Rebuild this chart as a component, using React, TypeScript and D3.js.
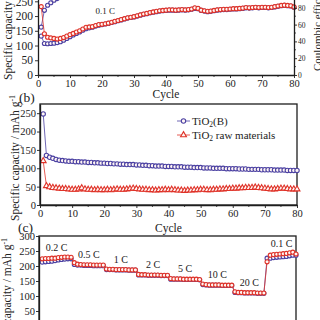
import React, { useEffect, useRef } from "react";
import * as d3 from "d3";

const W = 320;
const H = 320;
const FONT = "'Liberation Serif', 'Times New Roman', serif";
const RED = "#df3329";
const BLUE = "#4b41a2";

// shared cycle axis
const cycleTicks = [0, 10, 20, 30, 40, 50, 60, 70, 80];
const cycleMinor = [5, 15, 25, 35, 45, 55, 65, 75];
const capacityTicks = [0, 50, 100, 150, 200, 250];
const rateCapTicks = [0, 50, 100, 150, 200, 250, 300];
const efficiencyTicks = [0, 20, 40, 60, 80, 100];
const efficiencyMinor = [10, 30, 50, 70, 90];

// (a) long cycling at 0.1 C, mAh/g and %
const dischargeA = [
  232, 140, 128, 126, 124, 122, 124, 127, 132, 137,
  141, 146, 150, 156, 162, 163, 164, 168, 171, 172,
  174, 176, 179, 182, 185, 188, 191, 194, 196, 198,
  201, 204, 207, 209, 212, 214, 216, 218, 219, 220,
  221, 221, 220, 221, 222, 221, 222, 224, 228, 226,
  220, 218, 216, 217, 219, 221, 222, 223, 223, 224,
  225, 225, 226, 227, 229, 228, 229, 230, 229, 230,
  230, 229, 230, 232, 234, 236, 237, 236, 235, 231,
];
const chargeA = [
  132, 107, 106, 107, 108, 110, 113, 118, 124, 130,
  136, 141, 146, 152, 157, 160, 162, 166, 169, 171,
  173, 175, 178, 181, 184, 187, 190, 193, 195, 197,
  200, 203, 206, 208, 211, 213, 215, 217, 218, 219,
  220, 220, 219, 220, 221, 220, 221, 223, 226, 225,
  219, 217, 215, 216, 218, 220, 221, 222, 222, 223,
  224, 224, 225, 226, 228, 227, 228, 229, 228, 229,
  229, 228, 229, 231, 233, 235, 236, 235, 234, 230,
];
const efficiencyA = [
  57, 77, 83, 86, 89, 91, 93, 94, 95, 96,
  97, 97, 97, 98, 98, 98, 98, 98, 98, 99,
  99, 99, 99, 99, 99, 99, 99, 99, 99, 99,
  99, 99, 99, 99, 99, 99, 99, 99, 99, 99,
  99, 99, 99, 99, 99, 99, 99, 99, 99, 99,
  99, 99, 99, 99, 99, 99, 99, 99, 99, 99,
  99, 99, 99, 99, 99, 99, 99, 99, 99, 99,
  99, 99, 99, 99, 99, 99, 99, 99, 99, 99,
];

// (b) TiO2(B) vs raw TiO2
const tio2B = [
  248, 135, 130, 127, 124, 122, 121, 120, 119, 119,
  118, 118, 117, 117, 116, 116, 115, 115, 114, 114,
  113, 113, 112, 112, 111, 111, 110, 110, 110, 109,
  109, 108, 108, 107, 107, 106, 106, 106, 105, 105,
  105, 104, 104, 104, 103, 103, 103, 102, 102, 102,
  101, 101, 101, 100, 100, 100, 100, 99, 99, 99,
  99, 98, 98, 98, 97, 97, 97, 97, 96, 96,
  96, 96, 95, 95, 95, 95, 94, 94, 94, 94,
];
const tio2Raw = [
  120, 52, 49, 47, 46, 45, 44, 44, 43, 42,
  42, 43, 46, 43, 42, 42, 41, 42, 41, 41,
  42, 41, 42, 43, 42, 42, 43, 44, 45, 44,
  43, 42, 42, 41, 41, 40, 41, 41, 42, 41,
  42, 41, 40, 40, 39, 40, 40, 41, 41, 42,
  42, 41, 41, 42, 42, 43, 43, 44, 44, 45,
  45, 46, 46, 47, 47, 47, 48, 47, 46, 45,
  44, 43, 43, 44, 45, 45, 44, 43, 43, 43,
];
const legendNames = ["TiO", "TiO"];

// (c) rate capability, 10 cycles per rate
const rateLabels = ["0.2 C", "0.5 C", "1 C", "2 C", "5 C", "10 C", "20 C", "0.1 C"];
const rateDischarge = [
  224, 225, 225, 226, 226, 228, 229, 230, 230, 229,
  211, 206, 205, 204, 204, 204, 203, 203, 203, 203,
  190, 189, 189, 188, 188, 188, 188, 187, 187, 187,
  172, 171, 171, 170, 170, 170, 170, 169, 169, 169,
  158, 157, 157, 157, 156, 156, 156, 156, 156, 155,
  140, 138, 137, 137, 137, 137, 136, 136, 136, 136,
  114, 112, 112, 111, 111, 111, 111, 110, 110, 110,
  214, 236, 238, 239, 240, 241, 242, 244, 246, 240,
];
const rateCharge = [
  213, 214, 215, 216, 218, 220, 222, 223, 224, 224,
  205, 203, 203, 202, 202, 202, 201, 201, 201, 201,
  188, 188, 188, 187, 187, 187, 187, 186, 186, 186,
  170, 170, 170, 169, 169, 169, 169, 168, 168, 168,
  156, 156, 156, 156, 155, 155, 155, 155, 155, 154,
  138, 137, 136, 136, 136, 136, 135, 135, 135, 135,
  112, 111, 111, 110, 110, 110, 110, 109, 109, 109,
  226, 226, 228, 229, 230, 231, 232, 234, 236, 236,
];

type G = d3.Selection<SVGGElement, unknown, null, undefined>;

function styleAxis(g: G, size: number) {
  g.select(".domain").attr("stroke", "#1e1e1e").attr("stroke-width", 1.3);
  g.selectAll(".tick line").attr("stroke", "#1e1e1e").attr("stroke-width", 0.9);
  g.selectAll(".tick text")
    .attr("fill", "#222")
    .attr("font-family", FONT)
    .attr("font-size", size);
}

function minorTicks(g: G, values: number[], pos: (v: number) => number, horiz: boolean, base: number, len: number) {
  g.append("g")
    .selectAll("line")
    .data(values)
    .join("line")
    .attr("x1", (d) => (horiz ? pos(d) : base))
    .attr("x2", (d) => (horiz ? pos(d) : base + len))
    .attr("y1", (d) => (horiz ? base : pos(d)))
    .attr("y2", (d) => (horiz ? base + len : pos(d)))
    .attr("stroke", "#1e1e1e")
    .attr("stroke-width", 0.8);
}

function drawSeries(
  g: G,
  x: d3.ScaleLinear<number, number>,
  y: d3.ScaleLinear<number, number>,
  values: number[],
  color: string,
  symbol: d3.SymbolType,
  area: number
) {
  const line = d3.line<number>().x((_, i) => x(i + 1)).y((d) => y(d));
  g.append("path")
    .datum(values)
    .attr("d", line)
    .attr("fill", "none")
    .attr("stroke", color)
    .attr("stroke-width", 0.8);
  g.append("g")
    .selectAll("path")
    .data(values)
    .join("path")
    .attr("d", d3.symbol(symbol, area)())
    .attr("transform", (d, i) => `translate(${x(i + 1)},${y(d)})`)
    .attr("fill", "#fff6f4")
    .attr("stroke", color)
    .attr("stroke-width", 1.1);
}

function yLabel(svg: G, x: number, y: number) {
  const t = svg.append("text")
    .attr("transform", `translate(${x},${y}) rotate(-90)`)
    .attr("font-family", FONT)
    .attr("font-size", 11.5)
    .attr("fill", "#222");
  t.append("tspan").text("Specific capacity / mAh g");
  t.append("tspan").attr("dy", -4).attr("font-size", 8).text("-1");
}

function cycleAxis(g: G, x: d3.ScaleLinear<number, number>, bottom: number) {
  const ax = g.append("g")
    .attr("transform", `translate(0,${bottom})`)
    .call(d3.axisBottom(x).tickValues(cycleTicks).tickSize(3).tickSizeOuter(0).tickPadding(1.5));
  styleAxis(ax, 10.5);
  minorTicks(g, cycleMinor, x, true, bottom, 2);
}

export default function App() {
  const ref = useRef<SVGSVGElement>(null);

  useEffect(() => {
    if (!ref.current) return;
    const svg = d3.select(ref.current) as unknown as G;
    svg.selectAll("*").remove();

    // ---------- (a) ----------
    const xA = d3.scaleLinear().domain([0, 80]).range([38, 294]);
    const yA = d3.scaleLinear().domain([0, 285]).range([75, -9]);
    const yE = d3.scaleLinear().domain([0, 100]).range([75, -9]);
    const a = svg.append("g");

    drawSeries(a, xA, yE, efficiencyA, BLUE, d3.symbolCircle, 13);
    drawSeries(a, xA, yA, chargeA, BLUE, d3.symbolCircle, 13);
    drawSeries(a, xA, yA, dischargeA, RED, d3.symbolCircle, 13);

    const aLeft = a.append("g")
      .attr("transform", `translate(${xA(0)},0)`)
      .call(d3.axisLeft(yA).tickValues(capacityTicks).tickSize(3).tickSizeOuter(0).tickPadding(2));
    styleAxis(aLeft, 11.5);
    const aRight = a.append("g")
      .attr("transform", `translate(${xA(80)},0)`)
      .call(d3.axisRight(yE).tickValues(efficiencyTicks).tickSize(3).tickSizeOuter(0).tickPadding(1));
    styleAxis(aRight, 7.5);
    minorTicks(a, efficiencyMinor, yE, false, xA(80), 2);
    cycleAxis(a, xA, 75);

    a.append("text")
      .attr("x", xA(21))
      .attr("y", yA(dischargeA[20]) - 10)
      .attr("text-anchor", "middle")
      .attr("font-family", FONT)
      .attr("font-size", 9)
      .attr("fill", "#222")
      .text("0.1 C");
    a.append("text")
      .attr("x", (xA(0) + xA(80)) / 2)
      .attr("y", 98)
      .attr("text-anchor", "middle")
      .attr("font-family", FONT)
      .attr("font-size", 11.5)
      .attr("fill", "#222")
      .text("Cycle");
    yLabel(a, 11.5, 80);
    a.append("text")
      .attr("transform", "translate(321,71) rotate(-90)")
      .attr("font-family", FONT)
      .attr("font-size", 11)
      .attr("fill", "#222")
      .text("Coulombic efficiency / %");

    // ---------- (b) ----------
    const xB = d3.scaleLinear().domain([0, 80]).range([40, 297]);
    const yB = d3.scaleLinear().domain([0, 275]).range([205, 104]);
    const b = svg.append("g");
    b.append("rect")
      .attr("x", xB(0)).attr("y", yB(275))
      .attr("width", xB(80) - xB(0)).attr("height", yB(0) - yB(275))
      .attr("fill", "none").attr("stroke", "#1e1e1e").attr("stroke-width", 1.3);

    drawSeries(b, xB, yB, tio2Raw, RED, d3.symbolTriangle, 15);
    drawSeries(b, xB, yB, tio2B, BLUE, d3.symbolCircle, 15);

    const bLeft = b.append("g")
      .attr("transform", `translate(${xB(0)},0)`)
      .call(d3.axisLeft(yB).tickValues(capacityTicks).tickSize(3).tickSizeOuter(0).tickPadding(1));
    styleAxis(bLeft, 10.5);
    cycleAxis(b, xB, 205);

    // legend
    const legend = b.append("g").attr("font-family", FONT).attr("font-size", 11).attr("fill", "#222");
    const legendItems = [
      { color: BLUE, symbol: d3.symbolCircle, sub: "2", rest: "(B)" },
      { color: RED, symbol: d3.symbolTriangle, sub: "2", rest: " raw materials" },
    ];
    legendItems.forEach((it, i) => {
      const cy = 121 + i * 14;
      legend.append("line")
        .attr("x1", 177).attr("x2", 190).attr("y1", cy).attr("y2", cy)
        .attr("stroke", it.color).attr("stroke-width", 0.8);
      legend.append("path")
        .attr("d", d3.symbol(it.symbol, 15)())
        .attr("transform", `translate(183.5,${cy})`)
        .attr("fill", "#fff6f4").attr("stroke", it.color).attr("stroke-width", 1.1);
      const t = legend.append("text").attr("x", 192).attr("y", cy + 3.8);
      t.append("tspan").text(legendNames[i]);
      t.append("tspan").attr("font-size", 7.5).attr("dy", 2.5).text(it.sub);
      t.append("tspan").attr("dy", -2.5).text(it.rest);
    });

    b.append("text")
      .attr("x", 19).attr("y", 102)
      .attr("font-family", FONT).attr("font-size", 13.5).attr("fill", "#222")
      .text("(b)");
    b.append("text")
      .attr("x", (xB(0) + xB(80)) / 2)
      .attr("y", 232)
      .attr("text-anchor", "middle")
      .attr("font-family", FONT)
      .attr("font-size", 11.5)
      .attr("fill", "#222")
      .text("Cycle");
    yLabel(b, 19, 221);

    // ---------- (c) ----------
    const xC = d3.scaleLinear().domain([0, 80]).range([39, 296]);
    const yC = d3.scaleLinear().domain([0, 300]).range([326, 236]);
    const c = svg.append("g");
    c.append("rect")
      .attr("x", xC(0)).attr("y", yC(300))
      .attr("width", xC(80) - xC(0)).attr("height", yC(0) - yC(300))
      .attr("fill", "none").attr("stroke", "#1e1e1e").attr("stroke-width", 1.3);

    drawSeries(c, xC, yC, rateCharge, BLUE, d3.symbolCircle, 13);
    drawSeries(c, xC, yC, rateDischarge, RED, d3.symbolCircle, 13);

    const cLeft = c.append("g")
      .attr("transform", `translate(${xC(0)},0)`)
      .call(d3.axisLeft(yC).tickValues(rateCapTicks).tickSize(3).tickSizeOuter(0).tickPadding(1));
    styleAxis(cLeft, 10.5);

    rateLabels.forEach((lab, i) => {
      const seg = rateDischarge.slice(i * 10, i * 10 + 10);
      c.append("text")
        .attr("x", xC(i * 10 + 5.5))
        .attr("y", yC(d3.median(seg) as number) - 7)
        .attr("text-anchor", "middle")
        .attr("font-family", FONT)
        .attr("font-size", 10)
        .attr("fill", "#222")
        .text(lab);
    });

    c.append("text")
      .attr("x", 18).attr("y", 232)
      .attr("font-family", FONT).attr("font-size", 13.5).attr("fill", "#222")
      .text("(c)");
    yLabel(c, 11, 364);
  }, []);

  return (
    <svg
      ref={ref}
      width={W}
      height={H}
      style={{ position: "absolute", left: 0, top: 0, background: "#fff" }}
    />
  );
}
